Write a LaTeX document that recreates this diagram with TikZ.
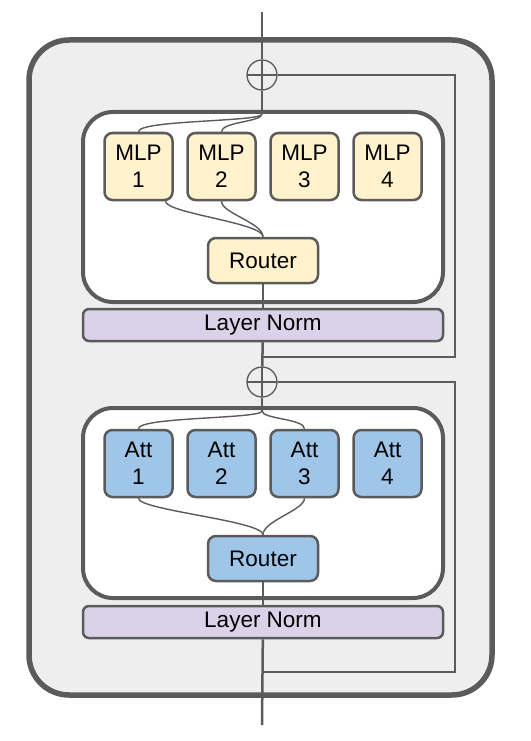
\documentclass[tikz,border=0pt]{standalone}
\usepackage{fontspec}
\setmainfont{Liberation Sans}
\usetikzlibrary{positioning}
\definecolor{edge}{HTML}{5B5B5B}
\definecolor{mlpfill}{HTML}{FFF2CC}
\definecolor{attfill}{HTML}{9FC5E8}
\definecolor{normfill}{HTML}{D9D2E9}
\definecolor{blockfill}{HTML}{EEEEEE}

\begin{document}
\begin{tikzpicture}[x=1pt, y=-1pt,
    wire/.style={draw=edge, line width=2.5pt},
    branch/.style={draw=edge, line width=1.4pt},
    expert/.style={draw=edge, line width=2.5pt, rounded corners=8pt, minimum width=68pt, minimum height=67pt,
        align=center, inner sep=0pt, font=\fontsize{22.5}{27}\selectfont},
    router/.style={expert, minimum width=110pt, minimum height=45pt},
    layernorm/.style={draw=edge, fill=normfill, line width=2.5pt, rounded corners=6pt, minimum width=360pt,
        minimum height=32pt, inner sep=0pt, font=\fontsize{22.5}{26}\selectfont},
    group/.style={draw=edge, fill=white, line width=4pt, rounded corners=30pt, minimum width=360pt, minimum height=190pt},
    plus/.style={circle, draw=edge, line width=1.3pt, minimum size=30pt, inner sep=0pt,
        path picture={\draw[edge, line width=1.3pt] (path picture bounding box.north) -- (path picture bounding box.south)
            (path picture bounding box.west) -- (path picture bounding box.east);}}]
    \useasboundingbox (0,0) rectangle (530,741);

    % outer block
    \node[draw=edge, fill=blockfill, line width=5.5pt, rounded corners=40pt, minimum width=463pt, minimum height=655pt]
        (block) at (260.5,367.5) {};
    \coordinate (in) at (262,12);
    \coordinate (out) at (262,725);
    \coordinate (side) at (455,0);

    % MLP subsystem
    \node[group] (mlpbox) at (263,207) {};
    \foreach \i in {1,...,4} {
        \node[expert, fill=mlpfill] (mlp\i) at ({55.5+83*\i},166.5) {MLP\\\i};
    }
    \node[router, fill=mlpfill] (mlprouter) at (263,260.5) {Router};
    \node[layernorm] (ln1) at (263,325) {Layer Norm};
    \node[plus] (add1) at (262,75) {};
    \coordinate (fork1) at (262,114);
    \coordinate (res1) at (262,357);

    % Att subsystem
    \node[group] (attbox) at (263,503) {};
    \foreach \i in {1,...,4} {
        \node[expert, fill=attfill] (att\i) at ({55.5+83*\i},463.5) {Att\\\i};
    }
    \node[router, fill=attfill] (attrouter) at (263,558.5) {Router};
    \node[layernorm] (ln2) at (263,622) {Layer Norm};
    \node[plus] (add2) at (262,382) {};
    \coordinate (fork2) at (262,411);
    \coordinate (res2) at (262,672);

    % main path
    \draw[wire] (in) -- (add1);
    \draw[wire] (add1) -- (fork1);
    \draw[wire] (mlprouter) -- (ln1);
    \draw[wire] (ln1) -- (add2);
    \draw[wire] (add2) -- (fork2);
    \draw[wire] (attrouter) -- (ln2);
    \draw[wire] (ln2) -- (out);

    % residual connections
    \draw[wire] (add1) -- (add1 -| side) |- (res1);
    \draw[wire] (add2) -- (add2 -| side) |- (res2);

    % routing
    \draw[branch] (fork1) .. controls +(0,8) and +(0,-12) .. (mlp1.north);
    \draw[branch] (fork1) .. controls +(0,8) and +(0,-10) .. (mlp2.north);
    \draw[branch] (mlp1.-52) .. controls +(0,12) and +(0,-14) .. (mlprouter.north);
    \draw[branch] (mlp2.south) .. controls +(0,12) and +(0,-14) .. (mlprouter.north);
    \draw[branch] (fork2) .. controls +(0,8) and +(0,-12) .. (att1.north);
    \draw[branch] (fork2) .. controls +(0,8) and +(0,-10) .. (att3.north);
    \draw[branch] (att1.south) .. controls +(0,12) and +(0,-14) .. (attrouter.north);
    \draw[branch] (att3.south) .. controls +(0,12) and +(0,-14) .. (attrouter.north);
\end{tikzpicture}
\end{document}
